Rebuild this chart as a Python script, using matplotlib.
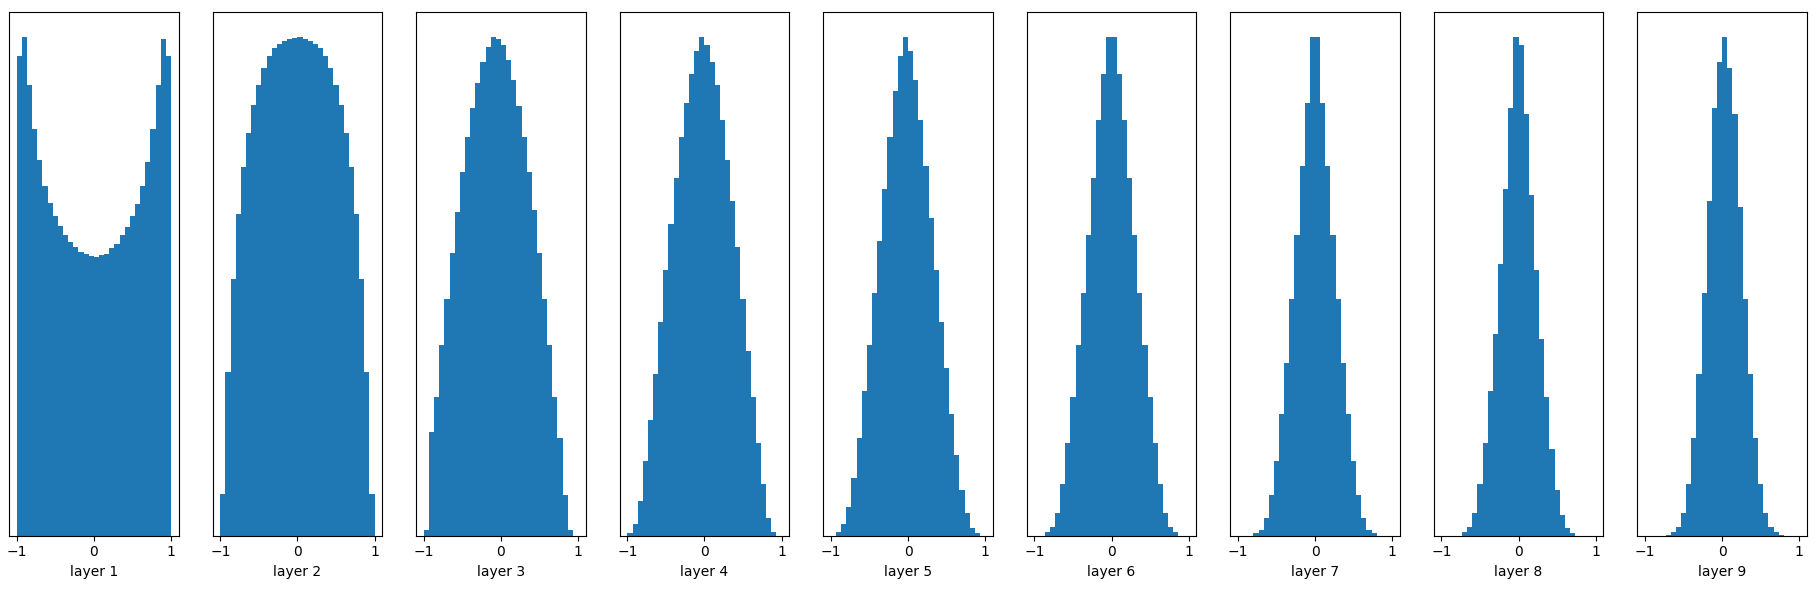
import numpy as np
import matplotlib
matplotlib.use("Agg")
import matplotlib.pyplot as plt

bin_edges = np.linspace(-1, 1, 31)
layer_labels = [f"layer {i}" for i in range(1, 10)]

layer1 = [415,432,390,352,325,303,288,277,268,260,254,250,246,244,242,241,243,244,249,253,260,267,277,287,303,324,352,390,430,415]
layer2 = [37,143,225,282,323,353,377,395,410,420,427,431,433,435,436,437,435,433,431,427,420,410,395,377,353,323,282,225,143,37]
layer3 = [5,90,120,165,205,245,280,315,345,370,392,410,423,432,430,425,412,395,372,345,315,282,245,205,165,120,85,35,5,0]
layer4 = [2,10,30,65,100,140,185,230,270,310,345,375,400,420,432,425,410,390,360,325,290,250,205,160,120,80,45,15,3,0]
layer5 = [0,3,10,25,50,85,125,165,210,255,300,345,385,415,432,420,395,360,320,275,230,185,145,105,70,40,20,7,2,0]
layer6 = [0,0,3,8,20,45,80,120,165,210,260,310,360,400,432,432,400,360,310,260,210,165,120,80,45,20,8,3,0,0]
layer7 = [0,0,0,2,5,15,35,65,105,150,205,260,320,375,432,432,375,320,260,205,150,105,65,35,15,5,2,0,0,0]
layer8 = [0,0,0,0,3,8,20,45,80,125,175,235,300,370,432,425,365,295,230,170,120,75,40,18,7,2,0,0,0,0]
layer9 = [0,0,0,0,1,3,8,20,45,85,140,210,290,370,410,432,405,365,285,205,140,85,45,20,8,3,1,0,0,0]
layers = [layer1, layer2, layer3, layer4, layer5, layer6, layer7, layer8, layer9]

fig, axes = plt.subplots(1, 9, figsize=(18.16, 5.92), dpi=100)
fig.subplots_adjust(left=0.005, right=0.995, bottom=0.095, top=0.98, wspace=0.2)
widths = np.diff(bin_edges)
for ax, counts, lab in zip(axes, layers, layer_labels):
    ax.bar(bin_edges[:-1], counts, width=widths, align='edge', color='#1f77b4')
    ax.set_xlabel(lab)
    ax.set_yticks([])
    ax.set_xticks([-1, 0, 1])
    ax.set_xlim(-1.1, 1.1)
fig.savefig("out.png")
